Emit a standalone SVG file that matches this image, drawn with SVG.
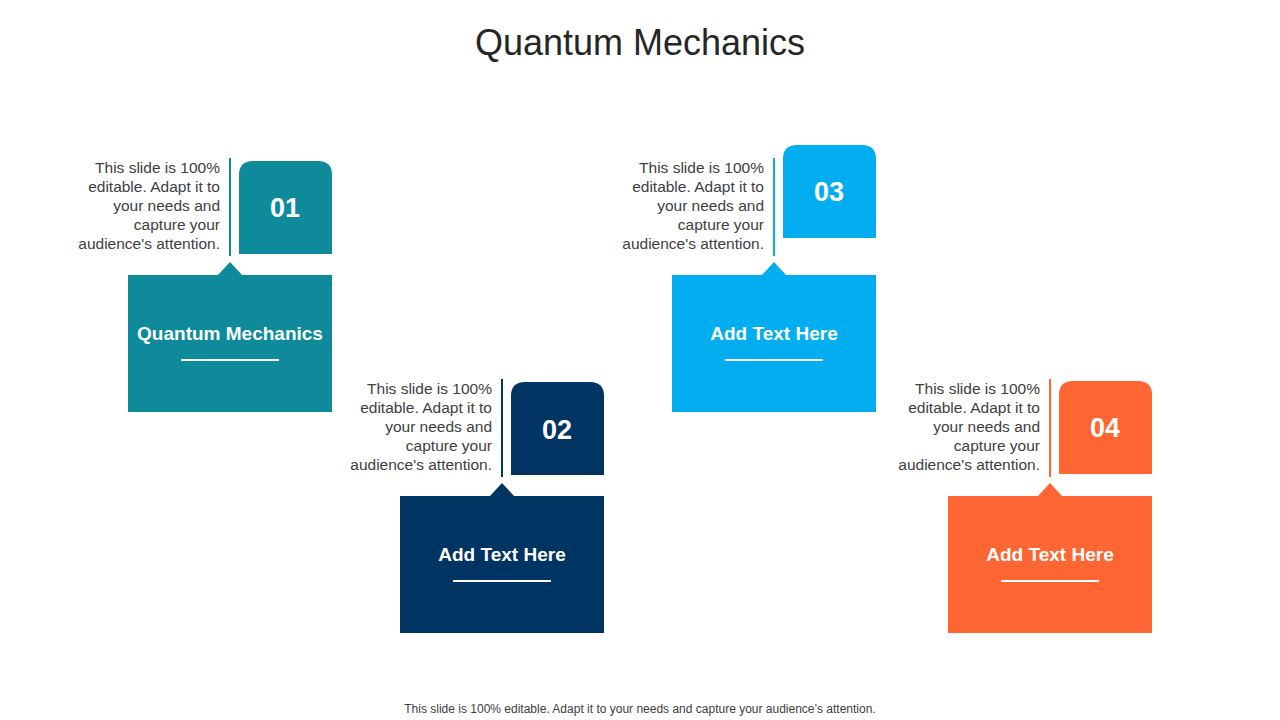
<svg xmlns="http://www.w3.org/2000/svg" width="1280" height="720" viewBox="0 0 1280 720">
<style>
.d{font-family:"Liberation Sans",Arial,sans-serif;font-size:15.5px;fill:#404040;text-anchor:end}
.n{font-family:"Liberation Sans",Arial,sans-serif;font-size:27px;font-weight:bold;fill:#fff;text-anchor:middle}
.h{font-family:"Liberation Sans",Arial,sans-serif;font-size:19px;font-weight:bold;fill:#fff;text-anchor:middle}
</style>
<rect width="1280" height="720" fill="#fff"/>
<text x="640" y="55" font-family="Liberation Sans,Arial,sans-serif" font-size="36" fill="#262626" text-anchor="middle">Quantum Mechanics</text>
<g id="n1">
<path d="M239,254 V175 Q239,161 253,161 H318 Q332,161 332,175 V254 Z" fill="#0E8A9B"/>
<rect x="128" y="275" width="204" height="137" fill="#0E8A9B"/>
<path d="M217,276 L230,262 L243,276 Z" fill="#0E8A9B"/>
<line x1="230" y1="158" x2="230" y2="256" stroke="#0E8A9B" stroke-width="2"/>
<text class="n" x="285" y="217">01</text>
<text class="h" x="230" y="340">Quantum Mechanics</text>
<line x1="181" y1="360" x2="279" y2="360" stroke="#fff" stroke-width="2"/>
<text class="d"><tspan x="220" y="173">This slide is 100%</tspan><tspan x="220" y="192">editable. Adapt it to</tspan><tspan x="220" y="211">your needs and</tspan><tspan x="220" y="230">capture your</tspan><tspan x="220" y="249">audience's attention.</tspan></text>
</g>
<g id="n2">
<path d="M511,475 V396 Q511,382 525,382 H590 Q604,382 604,396 V475 Z" fill="#003462"/>
<rect x="400" y="496" width="204" height="137" fill="#003462"/>
<path d="M489,497 L502,483 L515,497 Z" fill="#003462"/>
<line x1="502" y1="379" x2="502" y2="477" stroke="#003462" stroke-width="2"/>
<text class="n" x="557" y="439">02</text>
<text class="h" x="502" y="561">Add Text Here</text>
<line x1="453" y1="581" x2="551" y2="581" stroke="#fff" stroke-width="2"/>
<text class="d"><tspan x="492" y="394">This slide is 100%</tspan><tspan x="492" y="413">editable. Adapt it to</tspan><tspan x="492" y="432">your needs and</tspan><tspan x="492" y="451">capture your</tspan><tspan x="492" y="470">audience's attention.</tspan></text>
</g>
<g id="n3">
<path d="M783,238 V159 Q783,145 797,145 H862 Q876,145 876,159 V238 Z" fill="#02AEEF"/>
<rect x="672" y="275" width="204" height="137" fill="#02AEEF"/>
<path d="M761,276 L774,262 L787,276 Z" fill="#02AEEF"/>
<line x1="774" y1="158" x2="774" y2="256" stroke="#02AEEF" stroke-width="2"/>
<text class="n" x="829" y="201">03</text>
<text class="h" x="774" y="340">Add Text Here</text>
<line x1="725" y1="360" x2="823" y2="360" stroke="#fff" stroke-width="2"/>
<text class="d"><tspan x="764" y="173">This slide is 100%</tspan><tspan x="764" y="192">editable. Adapt it to</tspan><tspan x="764" y="211">your needs and</tspan><tspan x="764" y="230">capture your</tspan><tspan x="764" y="249">audience's attention.</tspan></text>
</g>
<g id="n4">
<path d="M1059,474 V395 Q1059,381 1073,381 H1138 Q1152,381 1152,395 V474 Z" fill="#FF6633"/>
<rect x="948" y="496" width="204" height="137" fill="#FF6633"/>
<path d="M1037,497 L1050,483 L1063,497 Z" fill="#FF6633"/>
<line x1="1050" y1="379" x2="1050" y2="477" stroke="#FF6633" stroke-width="2"/>
<text class="n" x="1105" y="437">04</text>
<text class="h" x="1050" y="561">Add Text Here</text>
<line x1="1001" y1="581" x2="1099" y2="581" stroke="#fff" stroke-width="2"/>
<text class="d"><tspan x="1040" y="394">This slide is 100%</tspan><tspan x="1040" y="413">editable. Adapt it to</tspan><tspan x="1040" y="432">your needs and</tspan><tspan x="1040" y="451">capture your</tspan><tspan x="1040" y="470">audience's attention.</tspan></text>
</g>
<g id="connectors"/>
<text x="640" y="713" font-family="Liberation Sans,Arial,sans-serif" font-size="12" fill="#404040" text-anchor="middle">This slide is 100% editable. Adapt it to your needs and capture your audience’s attention.</text>
</svg>
